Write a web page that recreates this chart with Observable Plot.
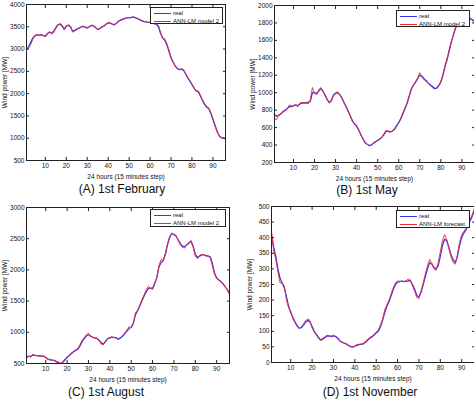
<!DOCTYPE html>
<html>
<head>
<meta charset="utf-8">
<script src="https://cdn.jsdelivr.net/npm/d3@7"></script>
<script src="https://cdn.jsdelivr.net/npm/@observablehq/plot@0.6"></script>
<style>
  body { margin: 0; background: white; }
  #root { position: relative; width: 474px; height: 399px; background: white; overflow: hidden; font-family: "Liberation Sans", Arial, sans-serif; }
  .panel { position: absolute; }
  .legend { position: absolute; background: white; border: 1px solid #222; box-sizing: border-box; font-size: 6px; color: #111; }
  .legend .row { position: absolute; left: 0; right: 0; height: 8px; }
  .legend .sw { position: absolute; left: 3px; width: 17px; top: 4px; height: 0; }
  .legend .lb { position: absolute; left: 22px; top: 0; line-height: 8px; white-space: nowrap; }
  .caption { position: absolute; font-size: 12px; color: #111; white-space: nowrap; transform: translate(-50%, -50%); }
</style>
</head>
<body>
<div id="root"></div>
<script>
// ---- data (96 quarter-hour steps) ----
const steps = d3.range(1, 97);
const xTicks = [10, 20, 30, 40, 50, 60, 70, 80, 90];

const febReal = [3000,3050,3150,3250,3300,3320,3310,3320,3300,3290,3350,3380,3350,3400,3480,3550,3560,3520,3450,3520,3530,3500,3400,3420,3450,3470,3490,3510,3490,3480,3500,3530,3520,3480,3440,3460,3500,3520,3560,3590,3580,3560,3550,3580,3630,3650,3670,3690,3700,3700,3710,3720,3700,3680,3660,3640,3620,3610,3600,3600,3580,3570,3560,3500,3350,3250,3200,3100,2950,2800,2700,2620,2560,2540,2550,2520,2440,2350,2280,2200,2120,2060,2040,1950,1850,1760,1700,1660,1560,1420,1280,1150,1050,1010,1000,990];
const febFc = [2980,3020,3100,3220,3290,3330,3300,3330,3310,3270,3330,3390,3340,3380,3460,3540,3570,3540,3430,3500,3550,3520,3380,3400,3440,3460,3500,3520,3480,3470,3490,3540,3530,3490,3430,3450,3490,3510,3550,3600,3590,3550,3540,3570,3620,3650,3660,3680,3700,3710,3700,3720,3710,3690,3660,3630,3610,3620,3600,3590,3590,3560,3570,3530,3380,3230,3230,3120,2980,2820,2720,2610,2580,2530,2560,2540,2450,2370,2290,2220,2130,2070,2060,1970,1860,1780,1710,1680,1580,1440,1300,1160,1060,1020,1010,980];

const mayReal = [750,730,740,760,780,800,820,840,840,850,860,850,870,880,885,880,890,900,1000,1000,990,1020,1050,1020,970,920,890,910,970,990,1000,980,940,890,840,790,730,680,640,620,570,520,470,430,410,395,400,420,440,450,470,490,520,560,560,550,560,580,620,660,700,760,820,880,960,1040,1090,1120,1160,1200,1190,1160,1140,1110,1090,1070,1050,1050,1080,1120,1200,1300,1380,1480,1580,1660,1740,1790,1830,1850,1870,1880,1870,1850,1830,1820];
const mayFc = [700,690,750,750,790,790,810,860,850,840,870,840,880,890,880,895,870,920,1060,990,980,1030,1060,1010,980,930,880,900,980,1000,1010,970,950,880,850,780,740,670,650,610,580,510,480,420,415,390,405,425,435,455,475,485,530,570,555,545,565,585,630,650,710,770,830,890,970,1050,1080,1130,1170,1230,1180,1150,1130,1110,1080,1060,1040,1060,1090,1130,1210,1310,1400,1500,1590,1670,1750,1800,1840,1860,1880,1890,1870,1850,1840,1830];

const augReal = [600,620,610,640,630,625,620,620,615,600,570,560,555,550,530,515,500,520,560,600,630,660,690,710,730,780,850,900,940,960,940,920,910,900,870,830,810,850,900,910,920,920,910,890,910,940,980,1020,1060,1080,1150,1280,1350,1420,1500,1580,1650,1700,1710,1700,1780,1880,2050,2120,2150,2250,2400,2520,2580,2570,2540,2480,2420,2380,2370,2400,2430,2460,2380,2250,2200,2220,2240,2240,2230,2220,2210,2100,1950,1870,1840,1810,1780,1730,1680,1620];
const augFc = [580,620,600,650,630,620,630,610,620,590,560,570,550,545,520,520,495,525,570,600,640,670,680,720,740,800,870,910,960,990,930,930,900,910,860,810,800,870,900,920,930,910,920,880,920,950,990,1040,1090,1070,1130,1320,1340,1440,1520,1600,1680,1740,1700,1690,1800,1870,2070,2170,2150,2270,2420,2540,2590,2560,2550,2470,2400,2360,2350,2410,2440,2470,2360,2220,2180,2230,2250,2240,2220,2230,2200,2060,1930,1860,1830,1820,1770,1720,1690,1610];

const novReal = [410,370,340,300,270,255,240,210,180,160,145,130,118,110,112,120,130,135,130,115,100,90,80,72,75,80,85,85,83,85,84,78,70,65,62,60,55,52,50,52,55,58,58,60,65,72,78,82,88,95,100,115,135,160,180,195,215,235,250,258,260,260,260,260,262,262,250,235,215,210,225,250,275,300,320,315,305,300,310,340,375,395,390,370,345,330,320,340,375,400,415,425,440,455,470,490];
const novFc = [420,360,330,290,255,255,245,200,175,165,140,128,115,108,115,125,135,140,135,110,98,88,78,70,78,82,88,84,85,88,82,75,68,64,63,58,54,50,49,53,58,56,60,62,68,75,80,84,90,97,105,120,140,170,185,200,220,240,255,262,258,262,258,262,268,265,245,228,208,205,230,255,285,310,330,320,300,295,320,355,390,410,395,365,340,320,315,345,385,410,420,430,450,460,475,495];

const panels = [
  {real: febReal, fc: febFc, yDomain: [500, 4000], yTicks: [500,1000,1500,2000,2500,3000,3500,4000],
   left: 0, top: 0, width: 237, height: 182, mL: 26, mR: 12, mT: 4, mB: 22,
   legend: {left: 150, top: 7, w: 73, h: 17, fcLabel: "ANN-LM model 2"},
   caption: {text: "(A) 1st February", x: 122, y: 189}},
  {real: mayReal, fc: mayFc, yDomain: [200, 2000], yTicks: [200,400,600,800,1000,1200,1400,1600,1800,2000],
   left: 237, top: 0, width: 237, height: 184, mL: 37, mR: 0, mT: 5, mB: 22,
   legend: {left: 396, top: 10, w: 74, h: 17, fcLabel: "ANN-LM model 2"},
   caption: {text: "(B) 1st May", x: 367, y: 190}},
  {real: augReal, fc: augFc, yDomain: [500, 3000], yTicks: [500,1000,1500,2000,2500,3000],
   left: 0, top: 200, width: 237, height: 185, mL: 26, mR: 8, mT: 7, mB: 22,
   legend: {left: 150, top: 209, w: 76, h: 18, fcLabel: "ANN-LM model 2"},
   caption: {text: "(C) 1st August", x: 106, y: 392}},
  {real: novReal, fc: novFc, yDomain: [0, 500], yTicks: [0,50,100,150,200,250,300,350,400,450,500],
   left: 237, top: 200, width: 237, height: 184, mL: 34, mR: 0, mT: 6, mB: 22,
   legend: {left: 396, top: 210, w: 74, h: 18, fcLabel: "ANN-LM forecast"},
   caption: {text: "(D) 1st November", x: 370, y: 392}}
];

const BLUE = "#3838e8", RED = "#ee2a3a";
const root = document.getElementById("root");

for (const p of panels) {
  const data = steps.map((s, i) => ({s, real: p.real[i], fc: p.fc[i]}));
  const chart = Plot.plot({
    width: p.width, height: p.height,
    marginLeft: p.mL, marginRight: p.mR, marginTop: p.mT, marginBottom: p.mB,
    style: {fontFamily: "Liberation Sans, Arial, sans-serif", fontSize: "6.5px", color: "#111", background: "transparent", overflow: "visible"},
    x: {domain: [1, 96]},
    y: {domain: p.yDomain},
    marks: [
      Plot.lineY(data, {x: "s", y: "real", stroke: BLUE, strokeWidth: 1.3}),
      Plot.lineY(data, {x: "s", y: "fc", stroke: RED, strokeWidth: 0.9}),
      Plot.frame({stroke: "#222", strokeWidth: 1}),
      Plot.axisX({ticks: xTicks, tickSize: 0, tickPadding: 3, tickFormat: "d", label: "24 hours (15 minutes step)", labelAnchor: "center", labelArrow: "none", labelOffset: 18, fill: "#111"}),
      Plot.axisX({ticks: xTicks, tickSize: -3, tickFormat: () => "", label: null, stroke: "#222"}),
      Plot.axisX({anchor: "top", ticks: xTicks, tickSize: -3, tickFormat: () => "", label: null, stroke: "#222"}),
      Plot.axisY({ticks: p.yTicks, tickSize: 0, tickPadding: 2, tickFormat: "d", label: "Wind power [MW]", labelAnchor: "center", labelArrow: "none", labelOffset: 24, fill: "#111"}),
      Plot.axisY({ticks: p.yTicks, tickSize: -3, tickFormat: () => "", label: null, stroke: "#222"}),
      Plot.axisY({anchor: "right", ticks: p.yTicks, tickSize: -3, tickFormat: () => "", label: null, stroke: "#222"})
    ]
  });
  chart.classList.add("panel");
  chart.style.left = p.left + "px";
  chart.style.top = p.top + "px";
  root.appendChild(chart);

  const lg = document.createElement("div");
  lg.className = "legend";
  lg.style.left = p.legend.left + "px";
  lg.style.top = p.legend.top + "px";
  lg.style.width = p.legend.w + "px";
  lg.style.height = p.legend.h + "px";
  const rows = [["real", BLUE, 1.5], [p.legend.fcLabel, RED, 1]];
  rows.forEach(([label, color, w], i) => {
    const row = document.createElement("div");
    row.className = "row";
    row.style.top = (1 + i * 7.5) + "px";
    const sw = document.createElement("div");
    sw.className = "sw";
    sw.style.borderTop = w + "px solid " + color;
    const lb = document.createElement("div");
    lb.className = "lb";
    lb.textContent = label;
    row.appendChild(sw); row.appendChild(lb);
    lg.appendChild(row);
  });
  root.appendChild(lg);

  const cap = document.createElement("div");
  cap.className = "caption";
  cap.style.left = p.caption.x + "px";
  cap.style.top = p.caption.y + "px";
  cap.textContent = p.caption.text;
  root.appendChild(cap);
}
</script>
</body>
</html>
